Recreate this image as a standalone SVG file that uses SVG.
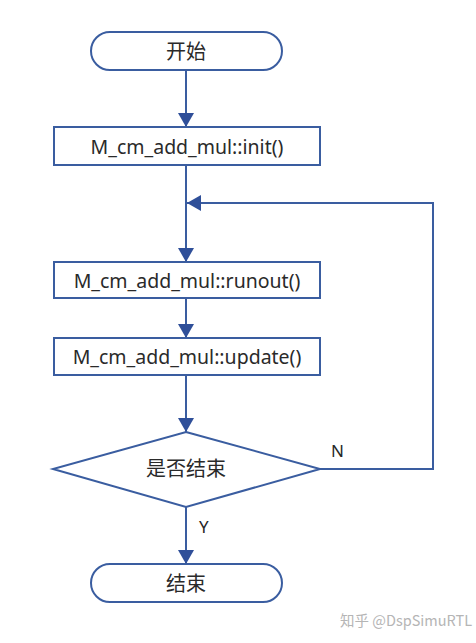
<svg xmlns="http://www.w3.org/2000/svg" width="476" height="643" viewBox="0 0 476 643">
<defs>
<style>
.n{fill:#fff;stroke:#3A5DA0;stroke-width:2}
.c{fill:none;stroke:#3A5DA0;stroke-width:2}
.t{font-family:"Noto Sans","Noto Sans CJK SC",sans-serif;font-size:19.5px;fill:#2a2a2a;text-anchor:middle;dominant-baseline:central}
.z{font-size:20px}
.l{font-family:"Noto Sans",sans-serif;font-size:17px;fill:#262626}
</style>
<marker id="a" viewBox="0 0 14 16" refX="14" refY="8" markerWidth="14" markerHeight="16" markerUnits="userSpaceOnUse" orient="auto">
<path d="M0,0 L14,8 L0,16 Z" fill="#2F4F99"/>
</marker>
</defs>
<rect width="476" height="643" fill="#fff"/>
<g id="connectors">
<line class="c" x1="186" y1="70" x2="186" y2="127" marker-end="url(#a)"/>
<line class="c" x1="186" y1="165" x2="186" y2="262" marker-end="url(#a)"/>
<line class="c" x1="186" y1="298" x2="186" y2="338" marker-end="url(#a)"/>
<line class="c" x1="186" y1="375" x2="186" y2="432" marker-end="url(#a)"/>
<polyline class="c" points="320,469 433,469 433,203 187,203" marker-end="url(#a)"/>
<line class="c" x1="186" y1="507" x2="186" y2="564" marker-end="url(#a)"/>
<text class="l" x="331" y="457">N</text>
<text class="l" x="199" y="533">Y</text>
</g>
<g id="start">
<rect class="n" x="91" y="32" width="191" height="38" rx="19"/>
<text class="t z" x="186" y="51">开始</text>
</g>
<g id="init">
<rect class="n" x="54" y="127" width="266" height="38"/>
<text class="t" x="187" y="146">M_cm_add_mul::init()</text>
</g>
<g id="runout">
<rect class="n" x="54" y="262" width="266" height="36"/>
<text class="t" x="187" y="280">M_cm_add_mul::runout()</text>
</g>
<g id="update">
<rect class="n" x="54" y="338" width="266" height="37"/>
<text class="t" x="187" y="356">M_cm_add_mul::update()</text>
</g>
<g id="decision">
<polygon class="n" points="186,432 320,469 186,507 53,469"/>
<text class="t z" x="186" y="468">是否结束</text>
</g>
<g id="end">
<rect class="n" x="91" y="564" width="191" height="38" rx="19"/>
<text class="t z" x="186" y="583">结束</text>
</g>
<text x="340" y="626" font-family="Noto Sans CJK SC,sans-serif" font-size="14.5" fill="#B5B5B5">知乎 @DspSimuRTL</text>
</svg>
